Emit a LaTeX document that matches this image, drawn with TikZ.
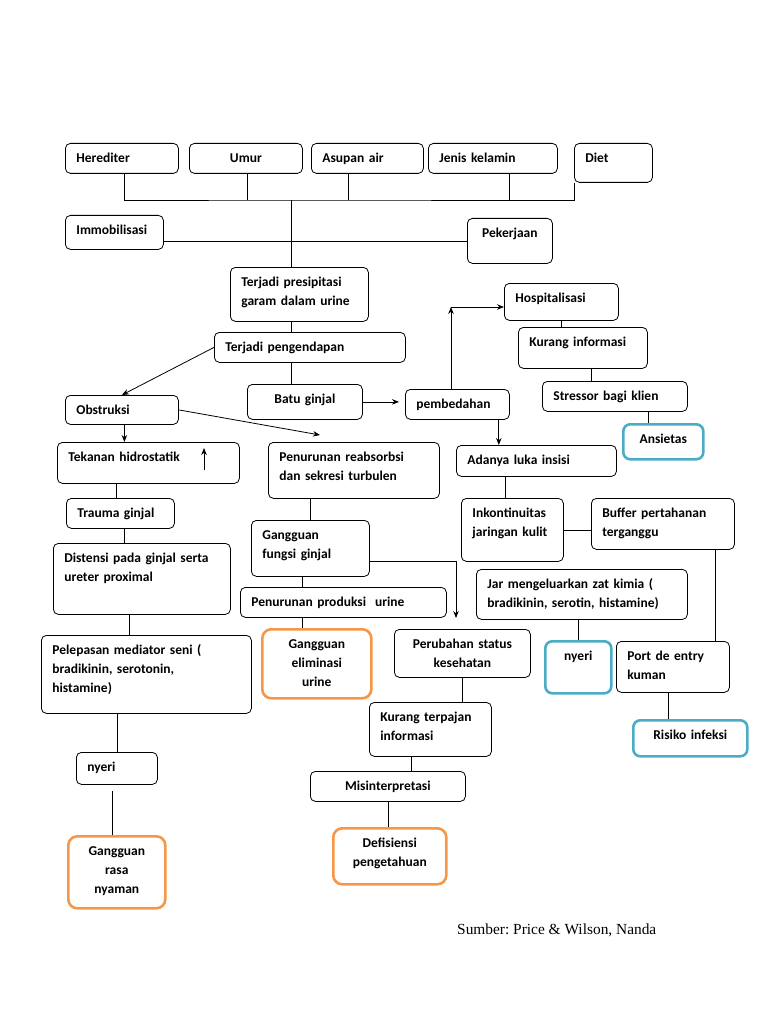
\documentclass[tikz,border=0pt]{standalone}
\usepackage{fontspec}
\usepackage{xcolor}
\setmainfont{Carlito}
\newfontfamily\sourcefont{Liberation Serif}
\usetikzlibrary{arrows.meta,positioning}
\definecolor{accentorange}{HTML}{F79646}
\definecolor{accentblue}{HTML}{4BACC6}
\frenchspacing

\begin{document}
\begin{tikzpicture}[x=1pt, y=-1pt, font=\fontsize{13.5}{19}\selectfont\bfseries]
    \tikzstyle{box} = [rectangle, rounded corners=5pt, draw, line width=0.8pt, anchor=north west, inner xsep=11pt, inner ysep=10pt, text height=9pt, align=left]
    \tikzstyle{mid} = [align=center]
    \tikzstyle{orangebox} = [box, mid, draw=accentorange, line width=2.6pt, rounded corners=9pt]
    \tikzstyle{bluebox} = [box, mid, draw=accentblue, line width=2.6pt, rounded corners=7pt]
    \tikzstyle{link} = [line width=0.8pt]
    \tikzstyle{arrow} = [link, ->, >={Stealth[length=7pt,width=5.5pt]}]
    \tikzset{wh/.code 2 args={%
        \pgfmathsetmacro\boxtw{#1-22}%
        \pgfmathsetmacro\boxtd{max(#2-29,0)}%
        \edef\boxkeys{minimum width=#1pt, minimum height=#2pt, text width=\boxtw pt, text depth=\boxtd pt}%
        \expandafter\pgfkeysalso\expandafter{\boxkeys}}}

    \useasboundingbox (0,0) rectangle (768,1024);

    % risk factors
    \node [box, wh={113}{30}] (herediter) at (65,143) {Herediter};
    \node [box, mid, wh={113}{30}] (umur) at (189,143) {Umur};
    \node [box, wh={112}{30}] (asupan) at (311,143) {Asupan air};
    \node [box, wh={129}{30}] (jenis) at (428,143) {Jenis kelamin};
    \node [box, wh={78}{39}] (diet) at (574,143) {Diet};
    \node [box, wh={98}{34}] (immobilisasi) at (65,215) {Immobilisasi};
    \node [box, mid, wh={85}{45}] (pekerjaan) at (467,218) {Pekerjaan};

    % centre
    \node [box, wh={138}{54}] (presip) at (230,267) {Terjadi presipitasi\\garam dalam urine};
    \node [box, wh={191}{30}] (pengendapan) at (214,332) {Terjadi pengendapan};
    \node [box, mid, wh={115}{35}] (batu) at (247,384) {Batu ginjal};
    \node [box, wh={104}{30}] (pembedahan) at (405,389) {pembedahan};

    % right branch
    \node [box, wh={114}{37}] (hospitalisasi) at (504,283) {Hospitalisasi};
    \node [box, wh={129}{41}] (kurinfo) at (518,327) {Kurang informasi};
    \node [box, wh={145}{30}] (stressor) at (542,381) {Stressor bagi klien};
    \node [bluebox, wh={80}{35}] (ansietas) at (622,423) {Ansietas};
    \node [box, wh={160}{31}] (adanya) at (456,445) {Adanya luka insisi};
    \node [box, wh={102}{63}] (inkont) at (461,498) {Inkontinuitas\\jaringan kulit};
    \node [box, wh={143}{51}] (buffer) at (591,498) {Buffer pertahanan\\terganggu};
    \node [box, wh={211}{50}] (jar) at (476,569) {Jar mengeluarkan zat kimia (\\bradikinin, serotin, histamine)};
    \node [bluebox, wh={66}{52}] (nyeriluka) at (544,640) {nyeri};
    \node [box, wh={113}{51}] (port) at (616,641) {Port de entry\\kuman};
    \node [bluebox, wh={114}{36}] (risiko) at (632,719) {Risiko infeksi};

    % knowledge branch
    \node [box, mid, wh={136}{48}] (perubahan) at (394,629) {Perubahan status\\kesehatan};
    \node [box, wh={122}{54}] (kurterpajan) at (369,702) {Kurang terpajan\\informasi};
    \node [box, mid, wh={155}{30}] (misinterp) at (310,771) {Misinterpretasi};
    \node [orangebox, wh={113}{56}] (defisiensi) at (332,827) {Defisiensi\\pengetahuan};

    % left branch
    \node [box, wh={113}{29}] (obstruksi) at (65,395) {Obstruksi};
    \node [box, wh={182}{41}] (tekanan) at (57,442) {Tekanan hidrostatik};
    \node [box, wh={108}{30}] (trauma) at (66,498) {Trauma ginjal};
    \node [box, wh={177}{71}] (distensi) at (53,543) {Distensi pada ginjal serta\\ureter proximal};
    \node [box, wh={210}{78}] (pelepasan) at (41,635) {Pelepasan mediator seni (\\bradikinin, serotonin,\\histamine)};
    \node [box, wh={81}{32}] (nyeri) at (76,752) {nyeri};
    \node [orangebox, wh={97}{72}] (rasa) at (67,835) {Gangguan\\rasa\\nyaman};

    % renal function
    \node [box, wh={171}{56}] (reabsorbsi) at (268,442) {Penurunan reabsorbsi\\dan sekresi turbulen};
    \node [box, wh={118}{56}] (fungsi) at (251,520) {Gangguan\\fungsi ginjal};
    \node [box, wh={206}{30}] (produksi) at (240,587) {Penurunan produksi~ urine};
    \node [orangebox, wh={109}{69}] (eliminasi) at (261,628) {Gangguan\\eliminasi\\urine};

    \node [anchor=base west, inner sep=0pt, font=\sourcefont\fontsize{15.4}{18}\selectfont] (sumber) at (457,934) {Sumber: Price \& Wilson, Nanda};

    % connectors
    \coordinate (trunk) at (291,200);
    \draw [link] ([xshift=2.5pt]herediter.south) |- (trunk) -| (diet.south west);
    \draw [link] ([xshift=1.5pt]umur.south) -- ([xshift=1.5pt]umur.south |- trunk);
    \draw [link] ([xshift=-19pt]asupan.south) -- ([xshift=-19pt]asupan.south |- trunk);
    \draw [link] ([xshift=16pt]jenis.south) -- ([xshift=16pt]jenis.south |- trunk);
    \draw [link] (trunk) -- (trunk |- presip.north);
    \draw [link] (pekerjaan.west) -- (pekerjaan.west -| immobilisasi.east);
    \draw [link] (presip.south -| trunk) -- (pengendapan.north -| trunk);
    \draw [link] (pengendapan.south -| trunk) -- (batu.north -| trunk);
    \draw [arrow] (pengendapan.west) -- (obstruksi.north);
    \draw [arrow, shorten >=6pt] (batu.east) -- (batu.east -| pembedahan.west);

    \coordinate (bend) at (451,307);
    \draw [arrow] (pembedahan.north -| bend) -- (bend);
    \draw [arrow] (bend) -- (bend -| hospitalisasi.west);
    \draw [link] (hospitalisasi.south) -- (hospitalisasi.south |- kurinfo.north);
    \draw [link] ([xshift=8.5pt]kurinfo.south) -- ([xshift=8.5pt]kurinfo.south |- stressor.north);
    \draw [link] ([xshift=-15pt]ansietas.north) -- ([xshift=-15pt]ansietas.north |- stressor.south);
    \draw [arrow] ([xshift=-11pt]pembedahan.south east) -- ([xshift=-11pt]pembedahan.south east |- adanya.north);
    \draw [link] ([xshift=-7pt]inkont.north) -- ([xshift=-7pt]inkont.north |- adanya.south);
    \draw [link] (inkont.east) -- (inkont.east -| buffer.west);
    \draw [link] ([xshift=-19pt]buffer.south east) -- ([xshift=-19pt]buffer.south east |- port.north);
    \draw [link] (nyeriluka.north) -- (nyeriluka.north |- jar.south);
    \draw [link] ([xshift=-4.5pt]port.south) -- ([xshift=-4.5pt]port.south |- risiko.north);

    \coordinate (drop) at (456,618);
    \draw [arrow] ([yshift=-13pt]fungsi.east) -| (drop);
    \draw [link] (perubahan.south) -- (perubahan.south |- kurterpajan.north);
    \draw [link] ([xshift=-19pt]kurterpajan.south) -- ([xshift=-19pt]kurterpajan.south |- misinterp.north);
    \draw [link] (misinterp.south) -- (misinterp.south |- defisiensi.north);

    \draw [arrow] ([xshift=2.5pt]obstruksi.south) -- ([xshift=2.5pt]obstruksi.south |- tekanan.north);
    \draw [arrow] (obstruksi.east) -- ([xshift=52pt,yshift=7pt]reabsorbsi.north west);
    \draw [arrow] ([xshift=147pt,yshift=-28pt]tekanan.north west) -- ([xshift=147pt,yshift=-6pt]tekanan.north west);
    \draw [link] ([xshift=-4pt]trauma.north) -- ([xshift=-4pt]trauma.north |- tekanan.south);
    \draw [link] ([xshift=4pt]trauma.south) -- ([xshift=4pt]trauma.south |- distensi.north);
    \draw [link] ([xshift=-12.5pt]distensi.south) -- ([xshift=-12.5pt]distensi.south |- pelepasan.north);
    \draw [link] (nyeri.north) -- (nyeri.north |- pelepasan.south);
    \draw [link, shorten >=6pt] ([xshift=-4.5pt]rasa.north) -- ([xshift=-4.5pt]rasa.north |- nyeri.south);

    \draw [link] (fungsi.north) -- (fungsi.north |- reabsorbsi.south);
    \draw [link] ([xshift=-8pt]fungsi.south) -- ([xshift=-8pt]fungsi.south |- produksi.north);
    \draw [link] ([xshift=-8pt]fungsi.south |- produksi.south) -- ([xshift=-8pt]fungsi.south |- eliminasi.north);
\end{tikzpicture}
\end{document}
